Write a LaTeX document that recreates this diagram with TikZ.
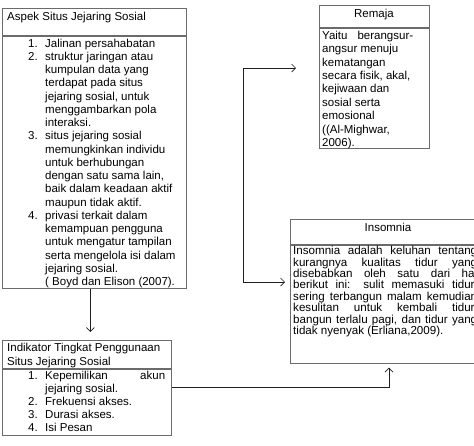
\documentclass[tikz,border=0pt]{standalone}
\usepackage{fontspec}
\setmainfont{Liberation Sans}
\usetikzlibrary{arrows.meta}
\definecolor{framecol}{gray}{0.42}
\definecolor{conncol}{gray}{0.12}
\newcommand\itmnum[1]{\makebox[17pt][l]{#1}}
\newcommand\itmind{\hspace*{17pt}}
\begin{document}
\begin{tikzpicture}[x=1pt,y=1pt,
  frame/.style={draw=framecol,line width=0.8pt,inner sep=0pt,anchor=north west},
  txt/.style={inner sep=0pt,anchor=north west,align=left,font=\fontsize{11.5}{14}\selectfont},
  conn/.style={draw=conncol,line width=0.7pt},
  tip/.style={-{Straight Barb[length=4pt,width=8pt]}}]
\useasboundingbox (0,0) rectangle (474,-445);
\clip (0,0) rectangle (474,-445);
\fill[white] (0,0) rectangle (474,-445);
% frames
\node[frame,minimum width=184pt,minimum height=27pt] (aspekH) at (2,-8) {};
\node[frame,minimum width=184pt,minimum height=252pt] (aspekB) at (aspekH.south west) {};
\node[frame,minimum width=169pt,minimum height=28pt] (indH) at (2,-340) {};
\node[frame,minimum width=169pt,minimum height=66pt] (indB) at (indH.south west) {};
\node[frame,minimum width=110pt,minimum height=22pt] (remH) at (319,-5) {};
\node[frame,minimum width=110pt,minimum height=120pt] (remB) at (remH.south west) {};
\node[frame,minimum width=196pt,minimum height=25pt] (insH) at (290,-219) {};
\node[frame,minimum width=196pt,minimum height=118pt] (insB) at (insH.south west) {};
% texts
\node[txt] (aspekT) at (7,-11.5) {\rule{0pt}{8.5pt}Aspek Situs Jejaring Sosial};
\node[txt,font=\fontsize{11.5}{13.25}\selectfont] (aspekL) at (28,-38.5) {\rule{0pt}{8.5pt}\itmnum{1.}Jalinan persahabatan\\
\itmnum{2.}struktur jaringan atau\\
\itmind kumpulan data yang\\
\itmind terdapat pada situs\\
\itmind jejaring sosial, untuk\\
\itmind menggambarkan pola\\
\itmind interaksi.\\
\itmnum{3.}situs jejaring sosial\\
\itmind memungkinkan individu\\
\itmind untuk berhubungan\\
\itmind dengan satu sama lain,\\
\itmind baik dalam keadaan aktif\\
\itmind maupun tidak aktif.\\
\itmnum{4.}privasi terkait dalam\\
\itmind kemampuan pengguna\\
\itmind untuk mengatur tampilan\\
\itmind serta mengelola isi dalam\\
\itmind jejaring sosial.\\
\itmind ( Boyd dan Elison (2007).};
\node[txt] (indT) at (7,-342.5) {\rule{0pt}{8.5pt}Indikator Tingkat Penggunaan\\Situs Jejaring Sosial};
\node[txt,font=\fontsize{11.5}{13}\selectfont] (indL) at (28,-370.5) {\rule{0pt}{8.5pt}\itmnum{1.}\makebox[120pt][s]{Kepemilikan akun}\\
\itmind jejaring sosial.\\
\itmnum{2.}Frekuensi akses.\\
\itmnum{3.}Durasi akses.\\
\itmnum{4.}Isi Pesan};
\node[txt,anchor=base] (remT) at (374,-17) {Remaja};
\node[txt,font=\fontsize{11.5}{13.4}\selectfont] (remL) at (322,-30.5) {\rule{0pt}{8.5pt}\makebox[91pt][s]{Yaitu berangsur-}\\
angsur menuju\\
kematangan\\
secara fisik, akal,\\
kejiwaan dan\\
sosial serta\\
emosional\\
((Al-Mighwar,\\
2006).};
\node[txt,anchor=base] (insT) at (388,-231) {Insomnia};
\node[txt,font=\fontsize{11.6}{11.4}\selectfont] (insL) at (293,-246) {\rule{0pt}{8.5pt}\makebox[184pt][s]{Insomnia adalah keluhan tentang}\\
\makebox[184pt][s]{kurangnya kualitas tidur yang}\\
\makebox[184pt][s]{disebabkan oleh satu dari hal}\\
\makebox[184pt][s]{berikut ini: sulit memasuki tidur,}\\
\makebox[184pt][s]{sering terbangun malam kemudian}\\
\makebox[184pt][s]{kesulitan untuk kembali tidur,}\\
\makebox[184pt][s]{bangun terlalu pagi, dan tidur yang}\\
tidak nyenyak (Erliana,2009).};
% connectors
\coordinate (bt) at (243,-68);
\coordinate (bb) at (243,-282);
\coordinate (be) at (389,-387);
\draw[conn,tip,shorten >=8pt] ([xshift=-4pt]aspekB.south) -- ([xshift=-4pt]aspekB.south |- indH.north);
\draw[conn,{Straight Barb[length=4pt,width=8pt]}-{Straight Barb[length=4pt,width=8pt]},shorten <=23pt,shorten >=5pt]
  (bt -| remB.west) -- (bt) -- (bb) -- (bb -| insB.west);
\draw[conn,tip,shorten >=4pt] (be -| indB.east) -- (be) -- (be |- insB.south);
\end{tikzpicture}
\end{document}
